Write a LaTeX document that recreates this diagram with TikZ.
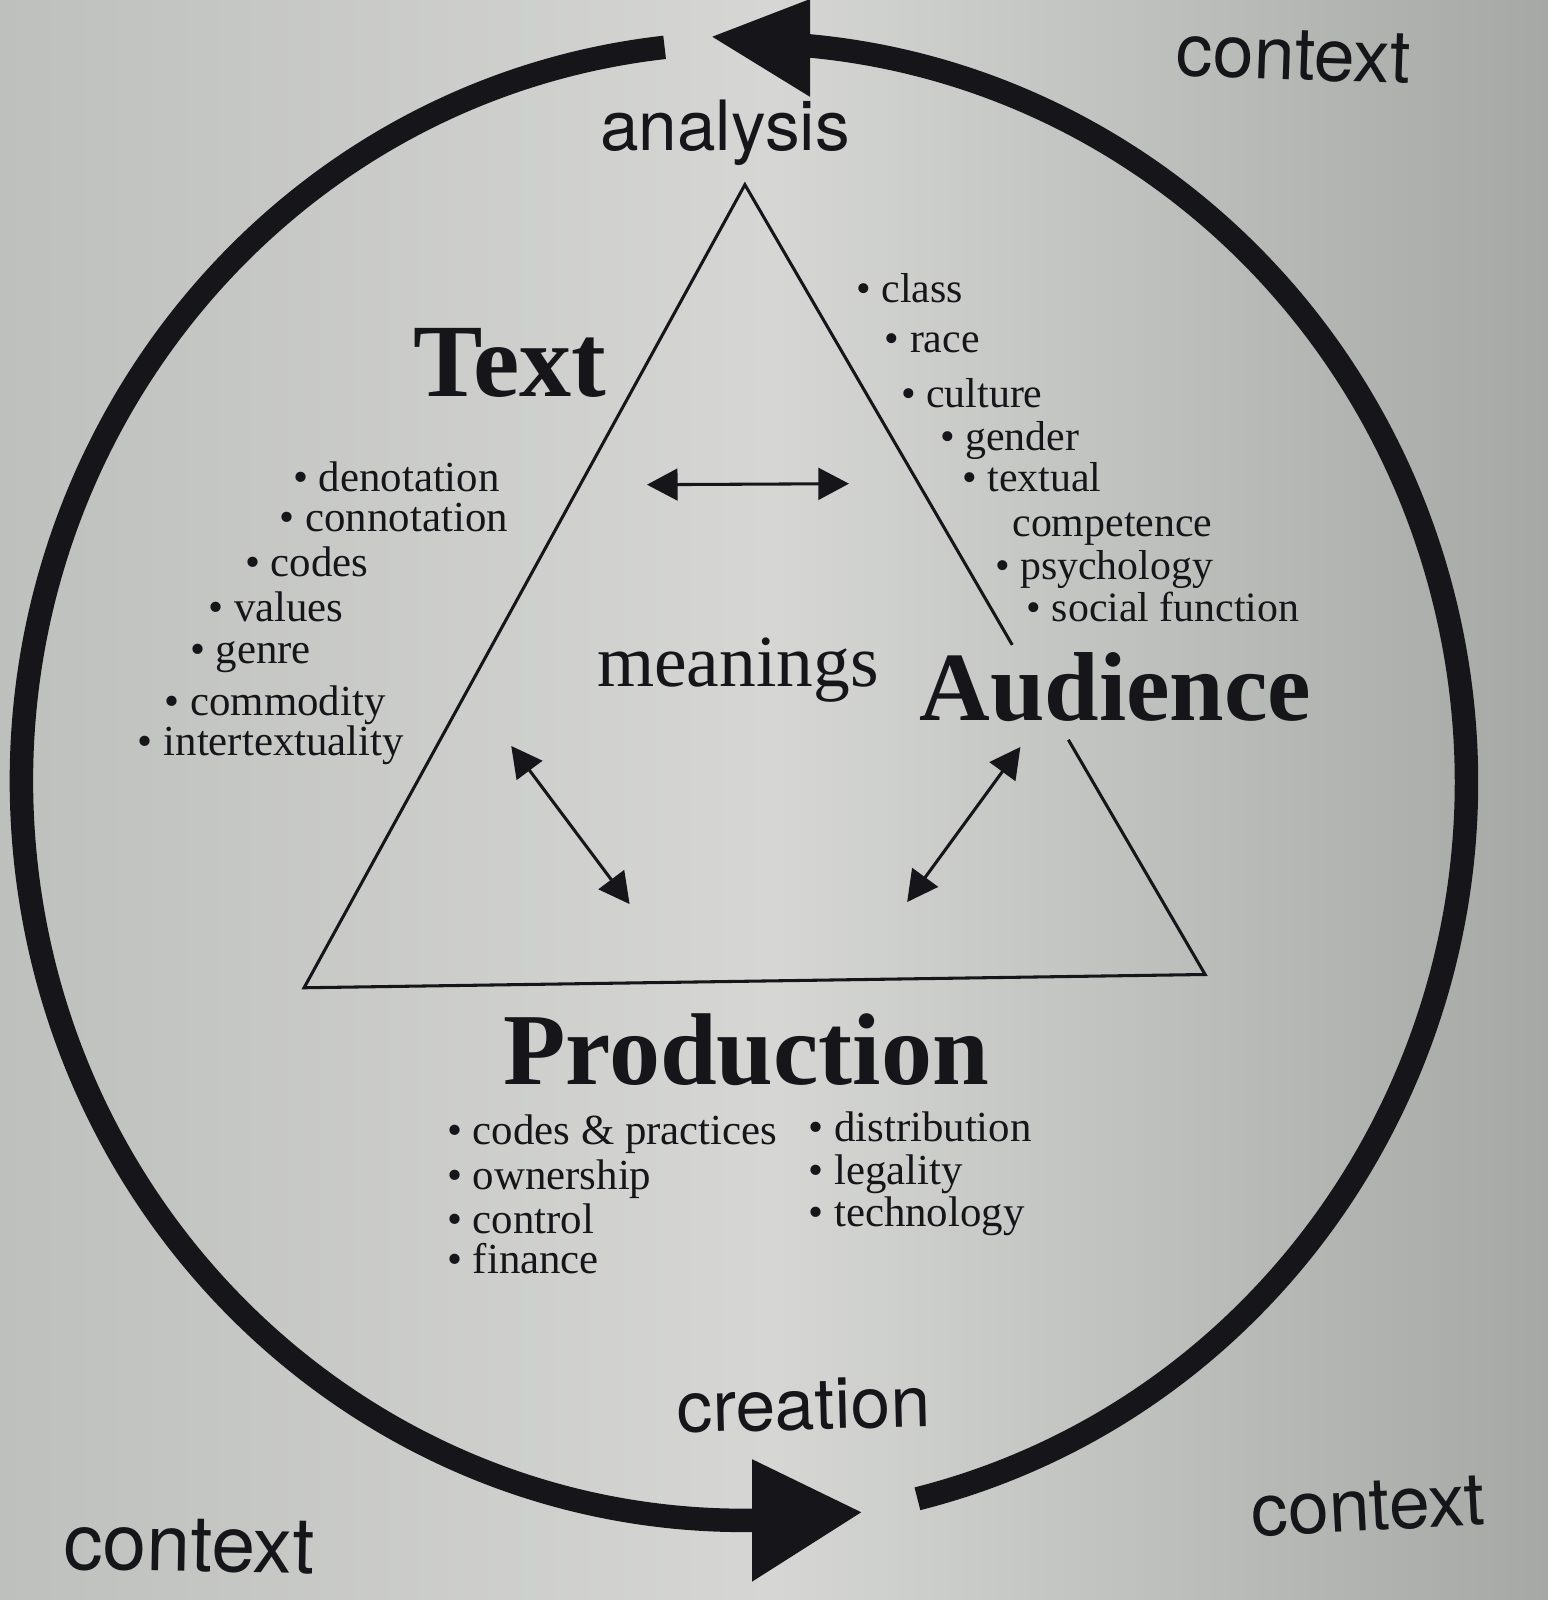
\documentclass[tikz,border=0pt]{standalone}
\usepackage{fontspec}
\setmainfont{Liberation Serif}
\setsansfont{TeX Gyre Heros}
\usetikzlibrary{arrows.meta}
\definecolor{ink}{RGB}{22,22,26}
\definecolor{paperL}{RGB}{190,192,189}
\definecolor{paperM}{RGB}{214,215,212}
\definecolor{paperR}{RGB}{165,168,165}
\newcommand\itembul{\textbullet\ }
\tikzset{
  lbl/.style={font=\sffamily\fontsize{68}{70}\selectfont, text=ink, inner sep=0pt, anchor=base},
  ctx/.style={font=\sffamily\fontsize{72}{74}\selectfont, text=ink, inner sep=0pt, anchor=base},
  big/.style={font=\bfseries\fontsize{98}{100}\selectfont, text=ink, inner sep=0pt, anchor=base west},
  item/.style={font=\fontsize{42}{44}\selectfont, text=ink, inner sep=0pt, anchor=base west},
  aitem/.style={font=\fontsize{41}{43}\selectfont, text=ink, inner sep=0pt, anchor=base west},
  ring/.style={draw=ink, line width=23pt, line cap=butt},
  tri/.style={draw=ink, line width=3pt, line join=miter},
  link/.style={draw=ink, line width=3pt, {Triangle[length=30pt,width=31pt]}-{Triangle[length=30pt,width=31pt]}},
  head/.style={fill=ink, draw=none},
}
\begin{document}
\begin{tikzpicture}[x=1pt,y=-1pt]
\useasboundingbox (0,0) rectangle (1517,1568);
\shade[left color=paperL, right color=paperR, middle color=paperM] (0,0) rectangle (1517,1568);

% ring with two arrows
\coordinate (c) at (729,766);
\draw[ring] (c) ++(263.7:708 and 724) arc[start angle=263.7, end angle=88.3, x radius=708, y radius=724];
\draw[ring] (c) ++(76.1:708 and 724) arc[start angle=76.1, end angle=-86, x radius=708, y radius=724];
\coordinate (tA) at (698,36);
\coordinate (tB) at (794,-1);
\coordinate (tC) at (794,95);
\fill[head] (tA) -- (tB) -- (tC) -- cycle;
\coordinate (bA) at (844,1482);
\coordinate (bB) at (737,1430);
\coordinate (bC) at (737,1550);
\fill[head] (bA) -- (bB) -- (bC) -- cycle;

% triangle
\coordinate (apex) at (730,181);
\coordinate (bl) at (298,968);
\coordinate (br) at (1181,955);
\coordinate (g1) at (992,632);
\coordinate (g2) at (1047,725);
\draw[tri] (g2) -- (br) -- (bl) -- (apex) -- (g1);

% double arrows
\coordinate (h1) at (634,475);
\coordinate (h2) at (832,474);
\coordinate (l1) at (501,731);
\coordinate (l2) at (617,886);
\coordinate (r1) at (1000,732);
\coordinate (r2) at (889,884);
\draw[link] (h1) -- (h2);
\draw[link] (l1) -- (l2);
\draw[link] (r1) -- (r2);

% arc labels
\node[lbl] (analysis) at (710.5,147) {analysis};
\node[lbl, font=\sffamily\fontsize{70}{72}\selectfont, rotate=1.5] (creation) at (788,1401) {creation};
\node[ctx, rotate=-2] (ctxTR) at (1267,78) {context};
\node[ctx, font=\sffamily\fontsize{77}{79}\selectfont, rotate=-1] (ctxBL) at (185,1540) {context};
\node[ctx, rotate=3] (ctxBR) at (1342,1500) {context};

% main words
\node[big, font=\bfseries\fontsize{102}{104}\selectfont] (text) at (405,389) {Text};
\node[big, font=\bfseries\fontsize{96}{98}\selectfont] (aud) at (901,706) {Audience};
\node[big, font=\bfseries\fontsize{100}{102}\selectfont] (prod) at (493,1063) {Production};
\node[font=\fontsize{72}{74}\selectfont, text=ink, inner sep=0pt, anchor=base west] (mean) at (585,673) {meanings};

% Text list
\node[item] (t1) at (287,482) {\itembul denotation};
\node[item] (t2) at (274,521) {\itembul connotation};
\node[item] (t3) at (240,565) {\itembul codes};
\node[item] (t4) at (204,609) {\itembul values};
\node[item] (t5) at (186,650) {\itembul genre};
\node[item] (t6) at (161,701) {\itembul commodity};
\node[item] (t7) at (135,740) {\itembul intertextuality};

% Audience list
\node[aitem] (a1) at (839,296) {\itembul class};
\node[aitem] (a2) at (867,345) {\itembul race};
\node[aitem] (a3) at (883,399) {\itembul culture};
\node[aitem] (a4) at (921,441) {\itembul gender};
\node[aitem] (a5) at (943,482) {\itembul textual};
\node[aitem] (a6) at (992,526) {competence};
\node[aitem] (a7) at (975,568) {\itembul psychology};
\node[aitem] (a8) at (1006,609) {\itembul social function};

% Production list
\node[item] (p1) at (438,1122) {\itembul codes \& practices};
\node[item] (p2) at (438,1166) {\itembul ownership};
\node[item] (p3) at (438,1209) {\itembul control};
\node[item] (p4) at (438,1248) {\itembul finance};
\node[item] (p5) at (792,1119) {\itembul distribution};
\node[item] (p6) at (792,1161) {\itembul legality};
\node[item] (p7) at (792,1202) {\itembul technology};
\end{tikzpicture}
\end{document}
